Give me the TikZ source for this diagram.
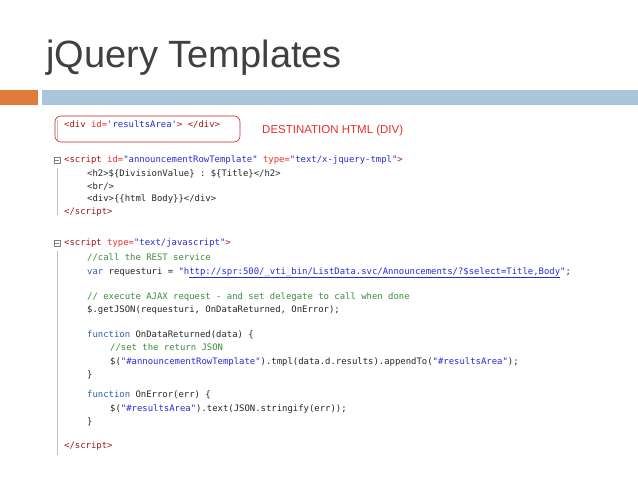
\documentclass[tikz,border=0pt]{standalone}
\usepackage{fontspec}
\setmainfont{Liberation Sans}
\setmonofont{DejaVu Sans Mono}[Scale=0.96]
\definecolor{titlegray}{HTML}{404040}
\definecolor{orbar}{HTML}{E07B39}
\definecolor{blbar}{HTML}{A9C4DB}
\definecolor{tagc}{HTML}{A31515}
\definecolor{attc}{HTML}{E8312A}
\definecolor{strc}{HTML}{2A2AD8}
\definecolor{cmc}{HTML}{3C8C3C}
\definecolor{kwc}{HTML}{2B5FB0}
\newcommand{\tg}[1]{\textcolor{tagc}{#1}}
\newcommand{\at}[1]{\textcolor{attc}{#1}}
\newcommand{\st}[1]{\textcolor{strc}{#1}}
\newcommand{\cm}[1]{\textcolor{cmc}{#1}}
\newcommand{\kw}[1]{\textcolor{kwc}{#1}}
\begin{document}
\begin{tikzpicture}[x=1pt,y=-1pt,
  code/.style={anchor=base west,inner sep=0pt,font=\ttfamily\fontsize{9.3}{11}\selectfont,text=black!85},
  fold/.style={draw=gray,line width=0.4pt,minimum size=6pt,inner sep=0pt}]
\useasboundingbox (0,0) rectangle (638,478);
\fill[white] (0,0) rectangle (638,478);
\node[anchor=base west,inner sep=0pt,text=titlegray,font=\fontsize{38}{40}\selectfont] (title) at (46,68) {jQuery Templates};
\fill[orbar] (0,90) rectangle (38,105);
\fill[blbar] (42,90) rectangle (638,105);
% editor margin
\draw[gray!50,line width=0.8pt] (57,120) -- (57,140);
\draw[gray!50,line width=0.8pt] (57,168) -- (57,215);
\draw[gray!50,line width=0.8pt] (57,251) -- (57,455);
\node[fold] (f1) at (57,160) {};
\draw[gray] (55,160) -- (59,160);
\node[fold] (f2) at (57,243) {};
\draw[gray] (55,243) -- (59,243);
% highlighted div
\draw[attc!85!black,rounded corners=6pt,line width=0.6pt] (55,116) rectangle (240,142);
\node[code] (l0) at (64,128) {\tg{<div} \at{id=}\st{'resultsArea'}\tg{> </div>}};
\node[anchor=base west,inner sep=0pt,text=attc,font=\fontsize{11.5}{13}\selectfont] (dest) at (262,134) {DESTINATION HTML (DIV)};
% template
\node[code] (l1) at (64,163) {\tg{<script} \at{id=}\st{"announcementRowTemplate"} \at{type=}\st{"text/x-jquery-tmpl"}\tg{>}};
\node[code] (l2) at (87,177) {<h2>\$\{DivisionValue\} : \$\{Title\}</h2>};
\node[code] (l3) at (87,190) {<br/>};
\node[code] (l4) at (87,202) {<div>\{\{html Body\}\}</div>};
\node[code] (l5) at (64,215) {\tg{</script>}};
% javascript
\node[code] (l6) at (64,246) {\tg{<script} \at{type=}\st{"text/javascript"}\tg{>}};
\node[code] (l7) at (87,261) {\cm{//call the REST service}};
\node[code] (l8) at (87,275) {\kw{var} requesturi = \st{"http://spr:500/\_vti\_bin/ListData.svc/Announcements/?\$select=Title,Body"};};
\draw[strc,line width=0.5pt] (189,277) -- (560,277);
\node[code] (l9) at (87,300) {\cm{// execute AJAX request - and set delegate to call when done}};
\node[code] (l10) at (87,313) {\$.getJSON(requesturi, OnDataReturned, OnError);};
\node[code] (l11) at (87,338) {\kw{function} OnDataReturned(data) \{};
\node[code] (l12) at (110,351) {\cm{//set the return JSON}};
\node[code] (l13) at (110,365) {\$(\st{"\#announcementRowTemplate"}).tmpl(data.d.results).appendTo(\st{"\#resultsArea"});};
\node[code] (l14) at (87,378) {\}};
\node[code] (l15) at (87,398) {\kw{function} OnError(err) \{};
\node[code] (l16) at (110,412) {\$(\st{"\#resultsArea"}).text(JSON.stringify(err));};
\node[code] (l17) at (87,425) {\}};
\node[code] (l18) at (64,449) {\tg{</script>}};
\end{tikzpicture}
\end{document}
